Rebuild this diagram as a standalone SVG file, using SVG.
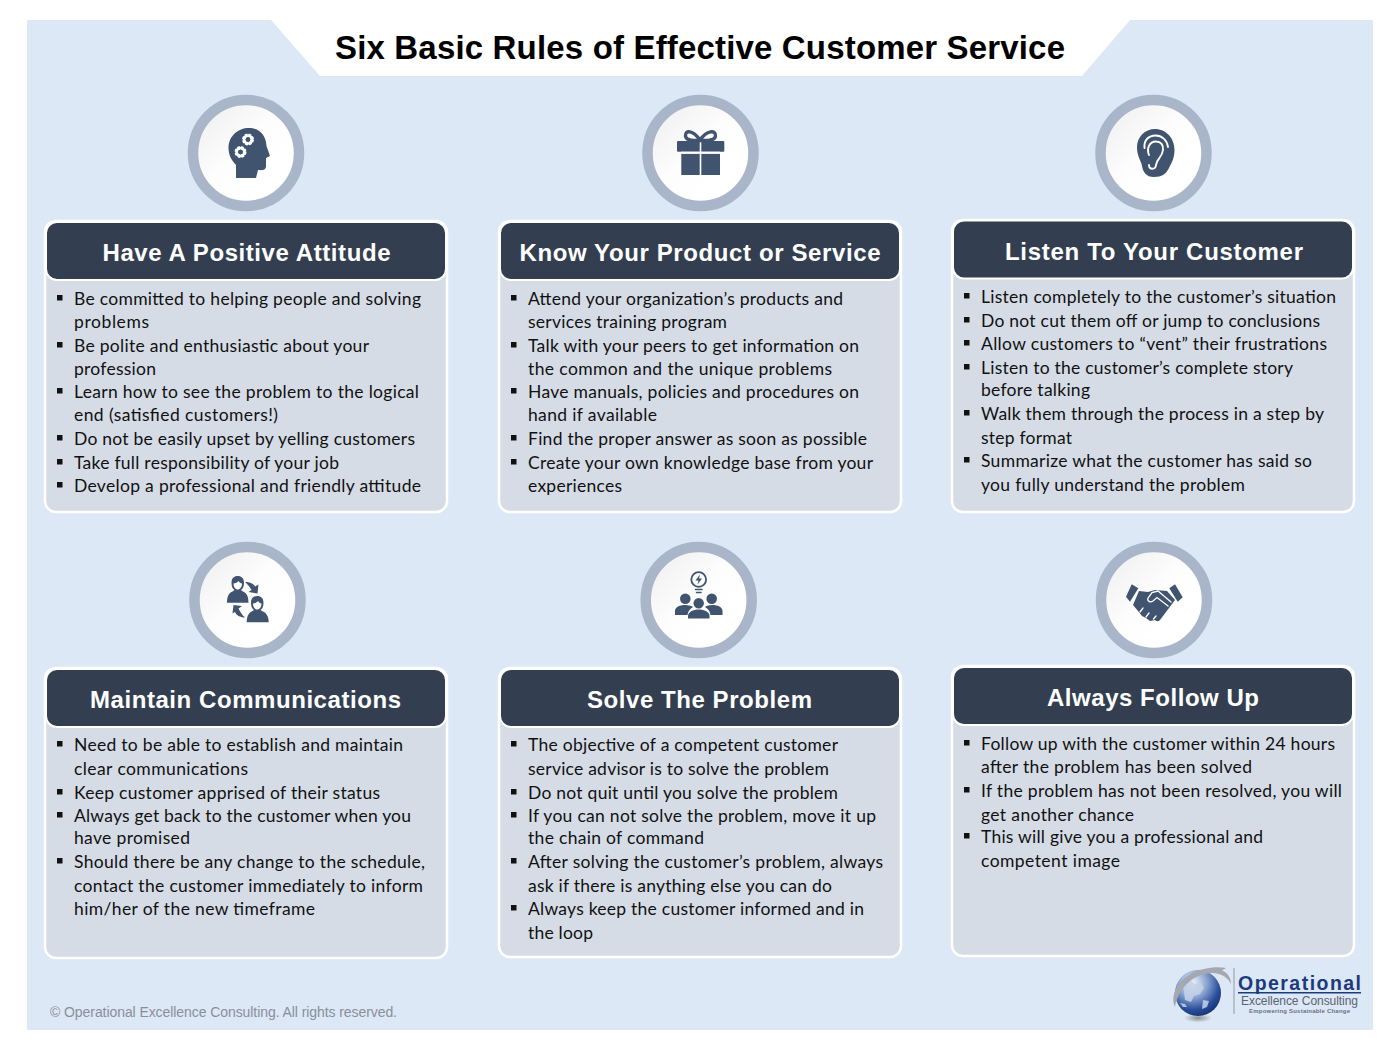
<svg xmlns="http://www.w3.org/2000/svg" width="1400" height="1050" viewBox="0 0 1400 1050">
<style>
.panel{fill:#d5dce6;stroke:#fff;stroke-width:2.5}
.head{fill:#333f50;stroke:#fff;stroke-width:2}
.ht{font-family:"Liberation Sans",Arial,sans-serif;font-weight:700;font-size:24px;fill:#fff;text-anchor:middle}
.t{font-family:Lato,"Open Sans",sans-serif;font-size:17.500px;fill:#111}
.ring{fill:url(#disc);stroke:#a9b6ca;stroke-width:10.5}
.ic{fill:#41546f}
.icw{fill:none;stroke:#fff;stroke-linecap:round}
.ico{fill:none;stroke:#41546f;stroke-linecap:round}
</style>
<defs>
<linearGradient id="disc" x1="0.1" y1="0.1" x2="0.7" y2="0.7"><stop offset="0" stop-color="#f0f0f0"/><stop offset="0.6" stop-color="#fdfdfd"/><stop offset="1" stop-color="#fff"/></linearGradient>
<radialGradient id="globe" cx="0.38" cy="0.28" r="0.78"><stop offset="0" stop-color="#f2f4f8"/><stop offset="0.4" stop-color="#8ba6d2"/><stop offset="0.75" stop-color="#2a4d9a"/><stop offset="1" stop-color="#12306f"/></radialGradient>
<radialGradient id="shadow"><stop offset="0" stop-color="#8b8f94"/><stop offset="1" stop-color="#dce8f5"/></radialGradient>
<rect id="b" width="5.5" height="5.5" fill="#111"/>
<g id="gear"><circle r="4.200" fill="none" stroke="#fff" stroke-width="3.600" stroke-dasharray="2.200 1.100"/><circle r="4" fill="none" stroke="#fff" stroke-width="2.600"/><circle r="2" fill="#41546f"/></g>
</defs>
<rect width="1400" height="1050" fill="#fff"/>
<rect x="27" y="20" width="1346" height="1010" fill="#dce8f5"/>
<g id="title">
<polygon points="271,20 1130,20 1082,76 320,76" fill="#fff"/>
<text x="335" y="59" textLength="730" font-family="Liberation Sans, Arial, sans-serif" font-weight="700" font-size="33" fill="#000">Six Basic Rules of Effective Customer Service</text>
</g>

<g id="node-positive-attitude">
<circle class="ring" cx="246" cy="153" r="53"/>
<path class="ic" d="M236 178V165C231 160 228.500 154 228.500 148C228.500 136 238 128 249 128C260 128 266 136 266.500 146L270 156L266 158V166C266 170 263 170.500 258 170L256 178Z"/>
<use href="#gear" x="240.500" y="152"/>
<use href="#gear" x="248" y="139.500"/>
<rect class="panel" x="45" y="221" width="402" height="291" rx="11"/>
<rect class="head" x="46" y="222" width="400" height="58" rx="11"/>
<text class="ht" x="246.500" y="261" textLength="288">Have A Positive Attitude</text>
<use href="#b" x="57" y="295"/><use href="#b" x="57" y="342"/><use href="#b" x="57" y="388"/><use href="#b" x="57" y="435"/><use href="#b" x="57" y="459"/><use href="#b" x="57" y="482"/>
<text class="t" x="74" y="305" textLength="347">Be committed to helping people and solving</text>
<text class="t" x="74" y="328" textLength="75">problems</text>
<text class="t" x="74" y="352" textLength="295">Be polite and enthusiastic about your</text>
<text class="t" x="74" y="375" textLength="82">profession</text>
<text class="t" x="74" y="398" textLength="345">Learn how to see the problem to the logical</text>
<text class="t" x="74" y="421" textLength="204">end (satisfied customers!)</text>
<text class="t" x="74" y="445" textLength="341">Do not be easily upset by yelling customers</text>
<text class="t" x="74" y="469" textLength="265">Take full responsibility of your job</text>
<text class="t" x="74" y="492" textLength="347">Develop a professional and friendly attitude</text>
</g>

<g id="node-know-product">
<circle class="ring" cx="700.500" cy="153" r="53"/>
<rect class="ic" x="677" y="141" width="47.300" height="10.700" rx="1"/>
<rect class="ic" x="681.300" y="153.700" width="38.700" height="21.300"/>
<rect x="699.700" y="141" width="1.600" height="34" fill="#fff"/>
<rect x="681" y="151.700" width="39" height="2" fill="#fff"/>
<path class="ico" stroke-width="3.400" d="M700 140C695 141 686 141 685.500 136C685 129.500 693 130 700 140C707 130 716 129.500 715.500 136C715 141 705 141 700 140Z"/>
<rect class="panel" x="499" y="221" width="402" height="291" rx="11"/>
<rect class="head" x="500" y="222" width="400" height="58" rx="11"/>
<text class="ht" x="700" y="261" textLength="361">Know Your Product or Service</text>
<use href="#b" x="511" y="295"/><use href="#b" x="511" y="342"/><use href="#b" x="511" y="388"/><use href="#b" x="511" y="435"/><use href="#b" x="511" y="459"/>
<text class="t" x="528" y="305" textLength="315">Attend your organization’s products and</text>
<text class="t" x="528" y="328" textLength="199">services training program</text>
<text class="t" x="528" y="352" textLength="331">Talk with your peers to get information on</text>
<text class="t" x="528" y="375" textLength="304">the common and the unique problems</text>
<text class="t" x="528" y="398" textLength="331">Have manuals, policies and procedures on</text>
<text class="t" x="528" y="421" textLength="129">hand if available</text>
<text class="t" x="528" y="445" textLength="339">Find the proper answer as soon as possible</text>
<text class="t" x="528" y="469" textLength="345">Create your own knowledge base from your</text>
<text class="t" x="528" y="492" textLength="94">experiences</text>
</g>

<g id="node-listen">
<circle class="ring" cx="1153.500" cy="153" r="53"/>
<path class="ic" d="M1155 129C1166 129 1174.500 138 1174.500 150C1174.500 158 1171.500 163 1169 168C1166 174 1162 177 1154 177C1146 177 1143 172 1142 166C1141 160 1137 157 1137 147C1137 137 1145 129 1155 129Z"/>
<path class="icw" stroke-width="1.900" d="M1144.500 148C1143.500 140 1149 135.500 1155.500 135.500C1162 135.500 1167 140 1168 147M1149 155C1146.500 149 1149 141.500 1156 141.500C1161 141.500 1163.500 145 1163 150C1162 158 1157 158 1156 165C1155.500 170 1149 170 1149 165"/>
<rect class="panel" x="952" y="220" width="402" height="292" rx="11"/>
<rect class="head" x="953" y="220.500" width="400" height="58" rx="11"/>
<text class="ht" x="1154" y="260" textLength="298">Listen To Your Customer</text>
<use href="#b" x="964" y="293"/><use href="#b" x="964" y="317"/><use href="#b" x="964" y="340"/><use href="#b" x="964" y="364"/><use href="#b" x="964" y="410"/><use href="#b" x="964" y="457"/>
<text class="t" x="981" y="303" textLength="355">Listen completely to the customer’s situation</text>
<text class="t" x="981" y="327" textLength="339">Do not cut them off or jump to conclusions</text>
<text class="t" x="981" y="350" textLength="346">Allow customers to “vent” their frustrations</text>
<text class="t" x="981" y="374" textLength="312">Listen to the customer’s complete story</text>
<text class="t" x="981" y="396" textLength="109">before talking</text>
<text class="t" x="981" y="420" textLength="343">Walk them through the process in a step by</text>
<text class="t" x="981" y="444" textLength="91">step format</text>
<text class="t" x="981" y="467" textLength="331">Summarize what the customer has said so</text>
<text class="t" x="981" y="491" textLength="264">you fully understand the problem</text>
</g>

<g id="node-communications">
<circle class="ring" cx="247.500" cy="600" r="53"/>
<path class="ic" d="M231.500 583C231.500 578 234 576 237.700 576C241.500 576 244 578 244 583C244 587 242.500 589 241 590L243 591.500C247 593 248.500 597 248.500 602.700H227C227 597 228.500 593 232.500 591.500L234.500 590C233 589 231.500 587 231.500 583Z"/>
<path d="M233.500 583.500C235.500 583.500 237.500 582.500 238.500 581C239.500 582.500 240.500 583.500 242 583.500C242 587 240 589.500 237.700 589.500C235.500 589.500 233.500 587 233.500 583.500Z" fill="#fff"/>
<path class="ic" d="M251 603C251 598 253.500 596 257.300 596C261 596 263.500 598 263.500 603C263.500 607 262 609 260.500 610L262.500 611.200C266.500 612.700 268.700 616.500 268.700 622.300H246.700C246.700 616.500 248.500 612.700 252 611.200L254 610C252.500 609 251 607 251 603Z"/>
<path d="M253 603.500C255 603.500 257 602.500 258 601C259 602.500 260 603.500 261.500 603.500C261.500 607 259.500 609.500 257.300 609.500C255 609.500 253 607 253 603.500Z" fill="#fff"/>
<path class="ic" d="M245 582C250 582 254 584 255 586.500L258.500 584.500L257.500 593.500L248.500 592L251.500 590C250 587.500 248 584.500 245 582Z"/>
<path class="ic" d="M245 617.500C240 617.500 236 615 235 612L232.500 613.500L233.500 605L242 606L238.500 608.500C240 611.500 242 615 245 617.500Z"/>
<rect class="panel" x="45" y="668" width="402" height="290" rx="11"/>
<rect class="head" x="46" y="669" width="400" height="58" rx="11"/>
<text class="ht" x="245.500" y="708" textLength="311">Maintain Communications</text>
<use href="#b" x="57" y="741"/><use href="#b" x="57" y="789"/><use href="#b" x="57" y="812"/><use href="#b" x="57" y="858"/>
<text class="t" x="74" y="751" textLength="329">Need to be able to establish and maintain</text>
<text class="t" x="74" y="775" textLength="174">clear communications</text>
<text class="t" x="74" y="799" textLength="306">Keep customer apprised of their status</text>
<text class="t" x="74" y="822" textLength="337">Always get back to the customer when you</text>
<text class="t" x="74" y="844" textLength="116">have promised</text>
<text class="t" x="74" y="868" textLength="351">Should there be any change to the schedule,</text>
<text class="t" x="74" y="892" textLength="349">contact the customer immediately to inform</text>
<text class="t" x="74" y="915" textLength="241">him/her of the new timeframe</text>
</g>

<g id="node-solve">
<circle class="ring" cx="698.700" cy="600" r="53"/>
<circle class="ico" cx="698.700" cy="579.500" r="7.400" stroke-width="1.800"/>
<path class="ic" d="M700 574.500L695.500 580.500H698.500L697.500 584.500L702 578.500H699Z"/>
<path class="ico" stroke-width="1.500" d="M695.500 589.500H702M696.500 592.500H701"/>
<circle class="ic" cx="685.300" cy="598.800" r="5.300"/><circle class="ic" cx="711.700" cy="598.800" r="5.300"/>
<path class="ic" d="M675 615V611C675 607 680 605 685 605C689 605 692 606 693 607C690 609 688 611 687.500 615ZM722.500 615V611C722.500 607 717.500 605 712.500 605C708 605 706 606 705 607C708 609 710 611 710.500 615Z"/>
<circle class="ic" cx="698.700" cy="603.300" r="5.200"/>
<path class="ic" d="M688 618.500V616C688 612 693 609.500 698.700 609.500C704.500 609.500 709.500 612 709.500 616V618.500Z"/>
<rect class="panel" x="499" y="668" width="402" height="289" rx="11"/>
<rect class="head" x="500" y="669" width="400" height="58" rx="11"/>
<text class="ht" x="699.500" y="708" textLength="225">Solve The Problem</text>
<use href="#b" x="511" y="741"/><use href="#b" x="511" y="789"/><use href="#b" x="511" y="812"/><use href="#b" x="511" y="858"/><use href="#b" x="511" y="905"/>
<text class="t" x="528" y="751" textLength="310">The objective of a competent customer</text>
<text class="t" x="528" y="775" textLength="301">service advisor is to solve the problem</text>
<text class="t" x="528" y="799" textLength="310">Do not quit until you solve the problem</text>
<text class="t" x="528" y="822" textLength="348">If you can not solve the problem, move it up</text>
<text class="t" x="528" y="844" textLength="176">the chain of command</text>
<text class="t" x="528" y="868" textLength="355">After solving the customer’s problem, always</text>
<text class="t" x="528" y="892" textLength="304">ask if there is anything else you can do</text>
<text class="t" x="528" y="915" textLength="336">Always keep the customer informed and in</text>
<text class="t" x="528" y="939" textLength="65">the loop</text>
</g>

<g id="node-follow-up">
<circle class="ring" cx="1154" cy="600" r="53"/>
<polygon class="ic" points="1131.700,584.300 1138.300,588.300 1130,601.700 1126,596.700"/>
<polygon class="ic" points="1175,584.300 1182.700,597.300 1177.700,601.700 1169.300,588.300"/>
<path class="ic" d="M1139 591L1148 592L1155 590L1167 591L1175 600L1160 620C1158 622 1156 621 1155 620L1150 621L1146 618L1142 616L1138 611L1133 605Z"/>
<path class="icw" stroke-width="1.300" d="M1171 602L1158 591L1152 592.500L1148 598C1147 601 1150 603 1153 601L1157 597.500L1168 606M1156 616L1153.500 619M1149 613L1146 617M1143 608L1140 612"/>
<rect class="panel" x="952" y="666" width="402" height="290" rx="11"/>
<rect class="head" x="953" y="667" width="400" height="58" rx="11"/>
<text class="ht" x="1153" y="706" textLength="212">Always Follow Up</text>
<use href="#b" x="964" y="740"/><use href="#b" x="964" y="787"/><use href="#b" x="964" y="833"/>
<text class="t" x="981" y="750" textLength="354">Follow up with the customer within 24 hours</text>
<text class="t" x="981" y="773" textLength="271">after the problem has been solved</text>
<text class="t" x="981" y="797" textLength="361">If the problem has not been resolved, you will</text>
<text class="t" x="981" y="821" textLength="153">get another chance</text>
<text class="t" x="981" y="843" textLength="282">This will give you a professional and</text>
<text class="t" x="981" y="867" textLength="139">competent image</text>
</g>

<g id="footer">
<text x="50" y="1017" textLength="347" font-family="Liberation Sans, Arial, sans-serif" font-size="14" fill="#8a8f99">© Operational Excellence Consulting. All rights reserved.</text>
</g>

<g id="logo">
<ellipse cx="1198" cy="1018" rx="14" ry="4.500" fill="url(#shadow)"/>
<circle cx="1198" cy="993" r="23" fill="url(#globe)"/>
<path d="M1183 984l7 -4l5 4l6 -1l3 5l-4 6l-6 2l-3 6l-6 -2l-1 -8zM1203 1000l6 1l-2 6l-5 2zM1180 1003l5 1l2 3l-4 0z" fill="#c3d2e8" opacity="0.85"/>
<path d="M1175 1007C1169 994 1180 974 1204 969C1212 967 1220 967 1226 968L1222 970.500C1228 973 1231 978 1231 984C1228 978 1222 973 1212 973C1194 973 1178 988 1175 1007Z" fill="#a5a9af"/>
<rect x="1233.500" y="968" width="1" height="46" fill="#8f99a8"/>
<text x="1238" y="990" textLength="123" font-family="Liberation Sans, Arial, sans-serif" font-weight="700" font-size="19.500" fill="#1c3a7c">Operational</text>
<rect x="1238" y="992" width="123" height="1.500" fill="#1c3a7c"/>
<text x="1241" y="1005" textLength="117" font-family="Liberation Sans, Arial, sans-serif" font-size="12" fill="#596373">Excellence Consulting</text>
<text x="1249" y="1012.800" textLength="101" font-family="Liberation Sans, Arial, sans-serif" font-weight="700" font-size="6" fill="#6a7280">Empowering Sustainable Change</text>
</g>
</svg>
